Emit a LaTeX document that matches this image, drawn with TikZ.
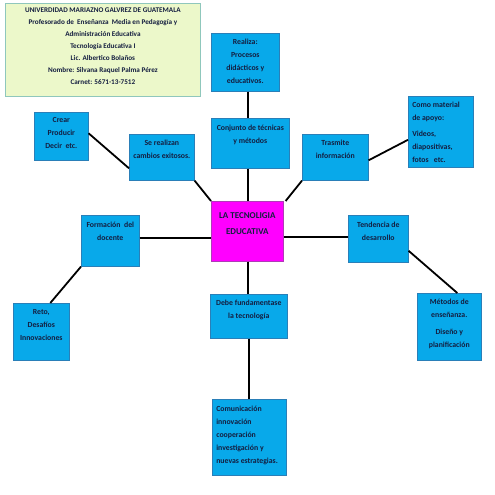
\documentclass[tikz,border=0pt]{standalone}
\usepackage{fontspec}
\setmainfont{Carlito}
\definecolor{cajaazul}{HTML}{08A9EA}
\definecolor{cajaborde}{HTML}{2A7FB8}
\definecolor{centrorosa}{HTML}{FF00FF}
\definecolor{centroborde}{HTML}{B03AB8}
\definecolor{encverde}{HTML}{ECF8CA}
\definecolor{encborde}{HTML}{8FC7BC}
\definecolor{textonavy}{HTML}{141E40}
% texto centrado arriba dentro de una caja de tamano fijo
\newcommand{\cajatxt}[4]{\parbox[c][#2bp][t]{#1bp}{\centering\vspace*{#3bp}#4}}
% texto alineado a la izquierda
\newcommand{\cajaizq}[4]{\parbox[c][#2bp][t]{#1bp}{\raggedright\leftskip=4bp\vspace*{#3bp}#4}}
\tikzset{
  caja/.style={draw=cajaborde, fill=cajaazul, line width=0.6pt, inner sep=0pt,
    anchor=north west, text=textonavy, font=\bfseries\fontsize{7.8}{13}\selectfont},
  centro/.style={caja, draw=centroborde, fill=centrorosa, text=textonavy,
    font=\bfseries\fontsize{9}{16}\selectfont},
  encabezado/.style={caja, draw=encborde, fill=encverde, line width=0.8pt,
    font=\bfseries\fontsize{7.2}{12}\selectfont},
  enlace/.style={line width=1.8pt, black}
}
\begin{document}
\begin{tikzpicture}[x=1bp, y=-1bp]
    \useasboundingbox (0,0) rectangle (495,495);

    % Encabezado
    \node[encabezado] (datos) at (5,3) {\cajatxt{195}{93}{4.5}{UNIVERDIDAD MARIAZNO GALVREZ DE GUATEMALA\\
        Profesorado de\ \ Enseñanza\ \ Media en Pedagogía y\\
        Administración Educativa\\
        Tecnología Educativa I\\
        Lic. Albertico Bolaños\\
        Nombre: Silvana Raquel Palma Pérez\\
        Carnet: 5671-13-7512}};

    % Nodo central
    \node[centro] (central) at (211,201) {\cajatxt{72}{60}{11.5}{LA TECNOLIGIA\\ EDUCATIVA}};

    % Ramas de arriba
    \node[caja] (realiza) at (211,33) {\cajatxt{68}{58}{5.5}{Realiza:\\ Procesos\\ didácticos y\\ educativos.}};
    \node[caja] (conjunto) at (211,118) {\cajatxt{78}{50}{6.5}{Conjunto de técnicas\\ y métodos}};
    \node[caja] (trasmite) at (302,134) {\cajatxt{66}{46}{5.5}{Trasmite\\ información}};
    \node[caja] (material) at (408,96) {\cajaizq{65}{71}{5.5}{Como material\\ de apoyo:\\[3bp]
        Videos,\\ diapositivas,\\ fotos\ \ \ etc.}};
    \node[caja] (serealizan) at (129,134) {\cajatxt{65}{46}{5.5}{Se realizan\\ cambios exitosos.}};
    \node[caja] (crear) at (34,112) {\cajatxt{54}{48}{5.5}{Crear\\ Producir\\ Decir\ \ etc.}};

    % Ramas de los lados
    \node[caja] (formacion) at (81,215) {\cajatxt{58}{51}{6.5}{Formación\ \ del\\ docente}};
    \node[caja] (reto) at (13,303) {\cajatxt{56}{57}{6.5}{Reto,\\ Desafíos\\ Innovaciones}};
    \node[caja] (tendencia) at (348,215) {\cajatxt{60}{47}{6.5}{Tendencia de\\ desarrollo}};
    \node[caja] (metodos) at (417,293) {\cajatxt{64}{67}{5.5}{Métodos de\\ enseñanza.\\[4bp] Diseño y\\ planificación}};

    % Ramas de abajo
    \node[caja] (debe) at (210,294) {\cajatxt{77}{44}{5.5}{Debe fundamentase\\ la tecnología}};
    \node[caja] (comunicacion) at (212,399) {\cajaizq{74}{76}{6.5}{Comunicación\\ innovación\\ cooperación\\
        investigación y\\ nuevas estrategias.}};

    % Conectores
    \draw[enlace] ([xshift=3bp]realiza.south) -- ([xshift=3bp]realiza.south |- conjunto.north);
    \draw[enlace] ([xshift=-2bp]conjunto.south) -- ([xshift=-2bp]conjunto.south |- central.north);
    \draw[enlace] (serealizan.south east) -- (central.north west);
    \draw[enlace] (trasmite.south west) -- ([xshift=2bp]central.north east);
    \draw[enlace] ([yshift=-3bp]trasmite.east) -- ([yshift=-8bp]material.west);
    \draw[enlace] ([yshift=3bp]crear.east) -- ([yshift=-11bp]serealizan.west);
    \draw[enlace] ([yshift=3bp]formacion.east) -- ([yshift=3bp]formacion.east -| central.west);
    \draw[enlace] (formacion.south west) -- ([xshift=9bp]reto.north);
    \draw[enlace] ([yshift=1.5bp]tendencia.west) -- ([yshift=1.5bp]tendencia.west -| central.east);
    \draw[enlace] ([yshift=-12bp]tendencia.east) -- ([xshift=8bp]metodos.north);
    \draw[enlace] ([xshift=1bp]central.south) -- ([xshift=1bp]central.south |- debe.north);
    \draw[enlace] ([xshift=0.5bp]debe.south) -- ([xshift=0.5bp]debe.south |- comunicacion.north);
\end{tikzpicture}
\end{document}
